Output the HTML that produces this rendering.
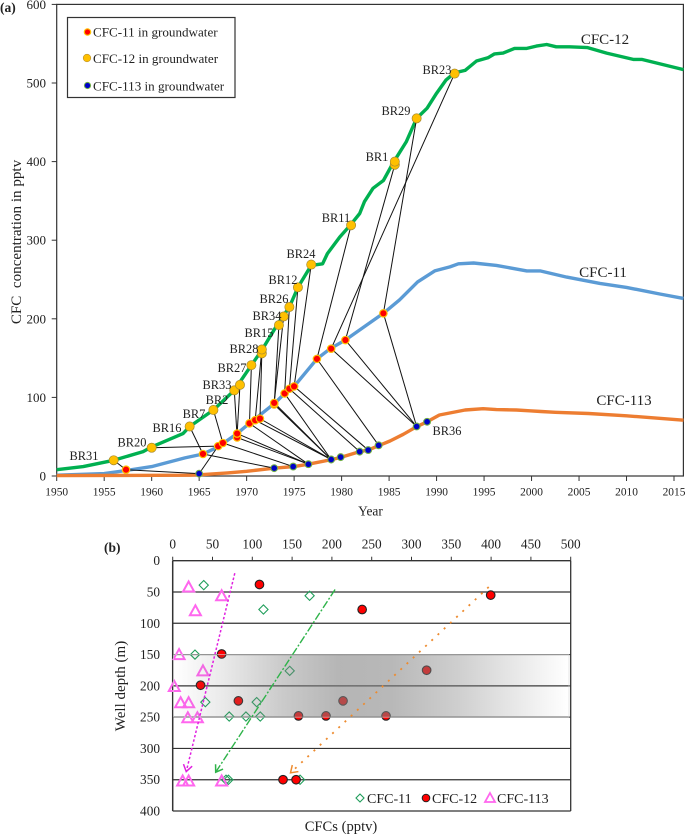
<!DOCTYPE html>
<html lang="en">
<head>
<meta charset="utf-8">
<title>CFC concentrations in atmosphere and groundwater</title>
<style>
html,body{margin:0;padding:0;background:#fff;width:685px;height:836px;overflow:hidden}
svg{display:block;font-family:"Liberation Serif","DejaVu Serif",serif;fill:#222;filter:blur(0.35px)}
text{white-space:pre}
</style>
</head>
<body>
<svg id="chart" width="685" height="836" viewBox="0 0 685 836" xmlns="http://www.w3.org/2000/svg">
  <defs>
    <linearGradient id="bandGrad" x1="0" x2="1" y1="0" y2="0">
      <stop offset="0" stop-color="#808080" stop-opacity="0"/>
      <stop offset="0.12" stop-color="#808080" stop-opacity="0.16"/>
      <stop offset="0.28" stop-color="#808080" stop-opacity="0.42"/>
      <stop offset="0.42" stop-color="#808080" stop-opacity="0.58"/>
      <stop offset="0.55" stop-color="#808080" stop-opacity="0.56"/>
      <stop offset="0.72" stop-color="#808080" stop-opacity="0.38"/>
      <stop offset="0.88" stop-color="#808080" stop-opacity="0.16"/>
      <stop offset="1" stop-color="#808080" stop-opacity="0"/>
    </linearGradient>
  </defs>
  <rect x="0" y="0" width="685" height="836" fill="#fff"/>

  <text x="0" y="12" font-size="13.5" font-weight="bold">(a)</text>
  <text x="104" y="552" font-size="13.5" font-weight="bold">(b)</text>

  <g id="panelA"></g>
  <g id="panelB"></g>

  <g font-size="12.4" text-anchor="middle">
    <text x="84" y="460">BR31</text>
    <text x="132" y="446.5">BR20</text>
    <text x="167" y="432">BR16</text>
    <text x="194" y="418">BR7</text>
    <text x="217" y="404">BR2</text>
    <text x="217" y="389">BR33</text>
    <text x="232" y="372">BR27</text>
    <text x="244" y="353">BR28</text>
    <text x="259" y="337">BR15</text>
    <text x="267" y="320">BR34</text>
    <text x="274" y="303">BR26</text>
    <text x="283" y="284">BR12</text>
    <text x="301" y="258">BR24</text>
    <text x="336" y="222">BR11</text>
    <text x="377" y="161">BR1</text>
    <text x="396" y="115">BR29</text>
    <text x="437" y="74">BR23</text>
    <text x="447" y="435">BR36</text>
  </g>

  <g font-size="15" text-anchor="middle">
    <text x="605" y="44">CFC-12</text>
    <text x="603" y="277">CFC-11</text>
    <text x="624" y="405">CFC-113</text>
  </g>

  <g>
    <rect x="67.5" y="17.5" width="167.5" height="80" fill="#fff" stroke="#333" stroke-width="1.2"/>
    <circle cx="87.5" cy="32" r="3.2" fill="#f00" stroke="#ffc000" stroke-width="1.2"/>
    <text x="93" y="36.5" font-size="13.1">CFC-11 in groundwater</text>
    <circle cx="87" cy="58" r="3.8" fill="#ffc000" stroke="#b89030" stroke-width="0.6"/>
    <text x="93" y="63" font-size="13.1">CFC-12 in groundwater</text>
    <circle cx="87.5" cy="85.5" r="3.1" fill="#0000c8" stroke="#70ad47" stroke-width="1"/>
    <text x="93" y="90.5" font-size="13.1">CFC-113 in groundwater</text>
  </g>

  <text font-size="15.1" text-anchor="middle" transform="translate(21 242) rotate(-90)">CFC  concentration in pptv</text>
  <text x="370.5" y="515.5" font-size="13.4" text-anchor="middle">Year</text>
  <text font-size="15" text-anchor="middle" transform="translate(125 686) rotate(-90)">Well depth (m)</text>
  <text x="341" y="831" font-size="14.6" text-anchor="middle">CFCs (pptv)</text>

  <g font-size="14">
    <path d="M360 794 L364 798 L360 802 L356 798 Z" fill="none" stroke="#1f9e5a" stroke-width="1.1"/>
    <text x="367" y="803">CFC-11</text>
    <circle cx="426" cy="798" r="3.8" fill="#f00" stroke="#222" stroke-width="1"/>
    <text x="432" y="803">CFC-12</text>
    <path d="M490 793 L495 802 L485 802 Z" fill="none" stroke="#ff66ee" stroke-width="1.8"/>
    <text x="497" y="803">CFC-113</text>
  </g>
</svg>

<script>
// Panel (a): atmospheric curves
const curve12Years = [1950,1952.8,1956,1959.1,1960,1963.3,1964,1966.5,1968.7,1970.5,1971.6,1973.2,1974.5,1975.4,1976.8,1978,1978.5,1979.8,1980.9,1981.9,1982.4,1983.3,1984.4,1985.4,1986.8,1987.9,1989,1990,1991,1991.9,1993,1994.2,1995.4,1996.1,1997,1998.2,1999.5,2000.5,2001.6,2002.6,2004,2005.9,2007.9,2010.7,2011.6,2016];
const curve12Values = [8,12,20,31,37,54,63,84,109,141,160,192,215,240,268,270,283,304,319,334,349,366,376,398,425,455,468,487,504,513,516,528,532,537,538,544,544,547,549,546,546,545,538,530,530,517];
const curve11Years = [1950,1955,1957.3,1960,1963.5,1965.4,1967,1969,1970.3,1973,1974,1975,1977.4,1978.8,1980.4,1984.4,1986.1,1988,1989.8,1991.4,1992.3,1993.9,1996.3,1999.5,2000.9,2003.7,2007.2,2010,2013.5,2016];
const curve11Values = [1,3,7,12,23,28,37,54,67,93,105,114,149,162,173,207,224,247,261,266,270,271,268,261,261,253,245,240,231.5,226];
const curve113Years = [1950,1964,1965,1968,1970,1973,1975,1976.5,1979,1980,1981.9,1982.8,1983.9,1985.1,1986.5,1987.9,1989,1990.3,1993,1994.9,1996.3,1998.4,1999.8,2001,2002.5,2006,2010,2016];
const curve113Values = [0.5,1,1.5,4,6,10,12,15,21,24,31,33,38.5,44.5,53,62.7,69,77.6,84,85.6,84.5,84,83,82,81,79.5,76.6,71];

// Panel (a): groundwater samples
const gw12Years = [1956,1960,1964,1966.5,1968.7,1969.3,1970.5,1971.6,1971.6,1973.4,1973.9,1974.5,1975.4,1976.8,1981,1985.6,1985.6,1987.9,1991.9];
const gw12Values = [20,36,63,84,109,116,141,156,161,192,203,215,240,269,319,396,400,455,512];
const gw11Years = [1957.3,1965.4,1967,1967.5,1969,1969,1970.3,1970.9,1971.4,1972.9,1972.9,1974,1974.5,1975,1977.4,1978.9,1980.4,1984.4];
const gw11Values = [8,28,38,42,49,54,67,71,73,91,93,105,111,114,149,162,173,207];
const gw113Years = [1965,1972.9,1974.9,1976.5,1978.9,1979.9,1981.9,1982.8,1983.9,1987.9,1989];
const gw113Values = [3,10,12,15,21,24,31,33,39,63,69];
// Which CFC-11 sample each CFC-12 sample joins (-1: no line drawn), and which CFC-113 sample each CFC-11 sample joins
const link12to11 = [0,2,1,3,4,5,6,8,7,9,10,11,12,13,14,16,-1,17,15];
const link11to113 = [0,1,0,2,3,3,3,4,4,4,4,4,6,7,8,9,9,9];

const xTicksA = [1950,1955,1960,1965,1970,1975,1980,1985,1990,1995,2000,2005,2010,2015];
const yTicksA = [0,100,200,300,400,500,600];

// Panel (b): well-depth profile
const depth11Values = [39,172,114,28,147,41,105.5,71,92,110,67,70,160];
const depth11Depths = [39,56,78,150,176,226,226,249,249,249,350,350,350];
const depth12Values = [109,238,399.5,61.5,35,82.5,214,319,158,192.6,268,138.6,155];
const depth12Depths = [38,78,55,149,199,224,224,175,248,248,248,350,350];
const depth113Values = [20,61.5,28.5,8,38,2,10,20,19,31,12.5,20,61.5];
const depth113Depths = [42,56,80,150,176,201,227,227,251,251,352,352,352];
const trend113Values = [78,17];
const trend113Depths = [20,337];
const trend11Values = [204,54];
const trend11Depths = [46,338];
const trend12Values = [397,148];
const trend12Depths = [42,339];
const xTicksB = [0,50,100,150,200,250,300,350,400,450,500];
const yTicksB = [0,50,100,150,200,250,300,350,400];
const bandDepths = [150,250];

const NS = 'http://www.w3.org/2000/svg';
function make(parent, tag, attrs, txt){
  const el = document.createElementNS(NS, tag);
  for (const k in attrs) el.setAttribute(k, attrs[k]);
  if (txt !== undefined) el.textContent = txt;
  parent.appendChild(el);
  return el;
}
function pathOf(xs, ys, fx, fy){
  return xs.map((v,i)=>(i?'L':'M')+fx(v).toFixed(1)+' '+fy(ys[i]).toFixed(1)).join(' ');
}

// Axis functions
const xA = y => 56.7 + (y-1950)*9.497;
const yA = v => 476 - v*0.786;
const xB = v => 172.7 + v*0.796;
const yB = d => 560.7 + d*0.6258;

const A = document.getElementById('panelA');
const B = document.getElementById('panelB');

/* ---------- Panel A ---------- */
const frameA = make(A,'rect',{x:xA(1950),y:yA(600),width:683.4-xA(1950),height:yA(0)-yA(600),fill:'none',stroke:'#333','stroke-width':1.2});



xTicksA.forEach(t=>{
  const tick = make(A,'line',{x1:xA(t),x2:xA(t),y1:yA(0),y2:yA(0)+5,stroke:'#333','stroke-width':1});
  
  
  const lab = make(A,'text',{x:xA(t),y:495.5,'font-size':11.4,'text-anchor':'middle'},t);
  
  
});
yTicksA.forEach(t=>{
  const tick = make(A,'line',{x1:xA(1950)-5,x2:xA(1950),y1:yA(t),y2:yA(t),stroke:'#333','stroke-width':1});
  
  
  const lab = make(A,'text',{x:46,y:yA(t)+4.5,'font-size':13,'text-anchor':'end'},t);
  
  
});

const line12 = make(A,'path',{d:pathOf(curve12Years,curve12Values,xA,yA),fill:'none',stroke:'#00b050','stroke-width':3.4,'stroke-linejoin':'round'});


const line11 = make(A,'path',{d:pathOf(curve11Years,curve11Values,xA,yA),fill:'none',stroke:'#5b9bd5','stroke-width':3.4,'stroke-linejoin':'round'});


const line113 = make(A,'path',{d:pathOf(curve113Years,curve113Values,xA,yA),fill:'none',stroke:'#ed7d31','stroke-width':3.4,'stroke-linejoin':'round'});



link12to11.forEach((j,i)=>{
  if (j < 0) return;
  const l = make(A,'line',{x1:xA(gw12Years[i]),y1:yA(gw12Values[i]),x2:xA(gw11Years[j]),y2:yA(gw11Values[j]),stroke:'#111','stroke-width':1});
  
  
});
link11to113.forEach((j,i)=>{
  const l = make(A,'line',{x1:xA(gw11Years[i]),y1:yA(gw11Values[i]),x2:xA(gw113Years[j]),y2:yA(gw113Values[j]),stroke:'#111','stroke-width':1});
  
  
});

gw113Years.forEach((y,i)=>{
  const c = make(A,'circle',{cx:xA(y),cy:yA(gw113Values[i]),r:3.4,fill:'#0000c8',stroke:'#70ad47','stroke-width':1.1});
  
  
});
gw11Years.forEach((y,i)=>{
  const c = make(A,'circle',{cx:xA(y),cy:yA(gw11Values[i]),r:3.7,fill:'#f00',stroke:'#ffc000','stroke-width':1.2});
  
  
});
gw12Years.forEach((y,i)=>{
  const c = make(A,'circle',{cx:xA(y),cy:yA(gw12Values[i]),r:4.6,fill:'#ffc000',stroke:'#a88a30','stroke-width':0.7});
  
  
});

/* ---------- Panel B ---------- */
yTicksB.forEach(t=>{
  const isEdge = (t===0 || t===400);
  const g = make(B,'line',{x1:xB(0),x2:xB(500),y1:yB(t),y2:yB(t),stroke:'#333','stroke-width':isEdge?1.3:1.2});
  
  
  const lab = make(B,'text',{x:160,y:yB(t)+4.5,'font-size':13.3,'text-anchor':'end'},t);
  
  
});
const leftB = make(B,'line',{x1:xB(0),x2:xB(0),y1:yB(0),y2:yB(400),stroke:'#333','stroke-width':1.5});


const rightB = make(B,'line',{x1:xB(500),x2:xB(500),y1:yB(0),y2:yB(400),stroke:'#333','stroke-width':1.3});


xTicksB.forEach(t=>{
  const tick = make(B,'line',{x1:xB(t),x2:xB(t),y1:yB(0)-4,y2:yB(0),stroke:'#333','stroke-width':1});
  
  
  const lab = make(B,'text',{x:xB(t),y:548.5,'font-size':13.3,'text-anchor':'middle'},t);
  
  
});

depth11Values.forEach((v,i)=>{
  const x = xB(v), y = yB(depth11Depths[i]), r = 4.6;
  const m = make(B,'path',{d:`M${x} ${y-r} L${x+r} ${y} L${x} ${y+r} L${x-r} ${y} Z`,fill:'none',stroke:'#1f9e5a','stroke-width':1.1});
  
  
});
depth12Values.forEach((v,i)=>{
  const m = make(B,'circle',{cx:xB(v),cy:yB(depth12Depths[i]),r:4.3,fill:'#f00',stroke:'#222','stroke-width':1.1});
  
  
});
depth113Values.forEach((v,i)=>{
  const x = xB(v), y = yB(depth113Depths[i]);
  const m = make(B,'path',{d:`M${x} ${y-5.5} L${x+5.5} ${y+4.5} L${x-5.5} ${y+4.5} Z`,fill:'none',stroke:'#ff66ee','stroke-width':2});
  
  
});

const band = make(B,'rect',{x:xB(0)+0.8,y:yB(bandDepths[0]),width:xB(500)-xB(0)-2.5,height:yB(bandDepths[1])-yB(bandDepths[0]),fill:'url(#bandGrad)',stroke:'#d4d4d4','stroke-width':0.6});



function trend(values, depths, color, dash, width, name){
  const x1 = xB(values[0]), y1 = yB(depths[0]), x2 = xB(values[1]), y2 = yB(depths[1]);
  const l = make(B,'line',{x1,y1,x2,y2,stroke:color,'stroke-width':width,'stroke-dasharray':dash});
  
  
  const ang = Math.atan2(y2-y1,x2-x1), s = 8;
  const hd = [ang+2.55, ang-2.55].map(a=>[x2+Math.cos(a)*s, y2+Math.sin(a)*s]);
  const h = make(B,'path',{d:`M${hd[0][0]} ${hd[0][1]} L${x2} ${y2} L${hd[1][0]} ${hd[1][1]}`,fill:'none',stroke:color,'stroke-width':1.5});
  
  
}
trend(trend113Values, trend113Depths, '#e020e0', '2.5 2', 1.5, 'cfc-113-trend-arrow');
trend(trend11Values, trend11Depths, '#2fb34a', '8 2 2 2', 1.4, 'cfc-11-trend-arrow');
trend(trend12Values, trend12Depths, '#ed8b2f', '2 6.5', 1.8, 'cfc-12-trend-arrow');
</script>
</body>
</html>
